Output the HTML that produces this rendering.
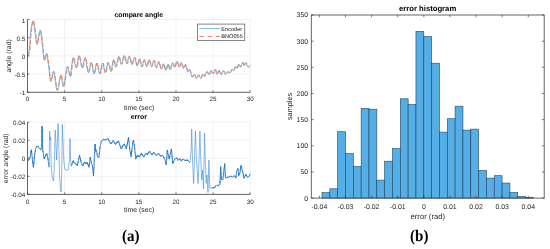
<!DOCTYPE html>
<html><head><meta charset="utf-8"><title>compare angle / error histogram</title>
<style>
html,body{margin:0;padding:0;background:#fff;}
body{width:550px;height:249px;overflow:hidden;position:relative;}
</style></head><body>
<svg width="550" height="249" viewBox="0 0 550 249" style="position:absolute;left:0;top:0" text-rendering="geometricPrecision">
<line x1="27.5" y1="19.5" x2="27.5" y2="92.3" stroke="#e8e8e8" stroke-width="0.6"/>
<line x1="64.62" y1="19.5" x2="64.62" y2="92.3" stroke="#e8e8e8" stroke-width="0.6"/>
<line x1="101.73" y1="19.5" x2="101.73" y2="92.3" stroke="#e8e8e8" stroke-width="0.6"/>
<line x1="138.85" y1="19.5" x2="138.85" y2="92.3" stroke="#e8e8e8" stroke-width="0.6"/>
<line x1="175.97" y1="19.5" x2="175.97" y2="92.3" stroke="#e8e8e8" stroke-width="0.6"/>
<line x1="213.08" y1="19.5" x2="213.08" y2="92.3" stroke="#e8e8e8" stroke-width="0.6"/>
<line x1="250.2" y1="19.5" x2="250.2" y2="92.3" stroke="#e8e8e8" stroke-width="0.6"/>
<line x1="27.5" y1="19.5" x2="250.2" y2="19.5" stroke="#e8e8e8" stroke-width="0.6"/>
<line x1="27.5" y1="37.7" x2="250.2" y2="37.7" stroke="#e8e8e8" stroke-width="0.6"/>
<line x1="27.5" y1="55.9" x2="250.2" y2="55.9" stroke="#e8e8e8" stroke-width="0.6"/>
<line x1="27.5" y1="74.1" x2="250.2" y2="74.1" stroke="#e8e8e8" stroke-width="0.6"/>
<line x1="27.5" y1="92.3" x2="250.2" y2="92.3" stroke="#e8e8e8" stroke-width="0.6"/>
<path d="M27.25 56.3C27.58 55.25 28.67 54.05 29.25 50C29.83 45.95 30.13 36.87 30.75 32C31.37 27.13 32.28 21.13 32.95 20.8C33.62 20.47 34.12 26.1 34.75 30C35.38 33.9 36.12 43.2 36.75 44.2C37.38 45.2 37.98 38.3 38.55 36C39.12 33.7 39.57 29.4 40.15 30.4C40.73 31.4 41.4 37.08 42.05 42C42.7 46.92 43.32 57.98 44.05 59.9C44.78 61.82 45.7 52.48 46.45 53.5C47.2 54.52 47.85 61.37 48.55 66C49.25 70.63 49.8 80.37 50.65 81.3C51.5 82.23 52.58 70.1 53.65 71.6C54.72 73.1 55.88 89.75 57.05 90.3C58.22 90.85 59.57 75.5 60.65 74.9C61.73 74.3 62.47 88.05 63.55 86.7C64.63 85.35 66.03 68.52 67.15 66.8C68.27 65.08 69.28 77.9 70.25 76.4C71.22 74.9 71.93 59.2 72.95 57.8C73.97 56.4 75.35 68.37 76.35 68C77.35 67.63 77.98 55.6 78.95 55.6C79.92 55.6 81.12 67.65 82.15 68C83.18 68.35 84.15 56.95 85.15 57.7C86.15 58.45 87.15 71.7 88.15 72.5C89.15 73.3 90.18 62.25 91.15 62.5C92.12 62.75 93.03 73.9 93.95 74C94.87 74.1 95.7 63.15 96.65 63.1C97.6 63.05 98.68 73.7 99.65 73.7C100.62 73.7 101.52 63.25 102.45 63.1C103.38 62.95 104.33 72.92 105.25 72.8C106.17 72.68 107.02 62.65 107.95 62.4C108.88 62.15 109.95 71.73 110.85 71.3C111.75 70.87 112.52 60.52 113.35 59.8C114.18 59.08 114.98 67.55 115.85 67C116.72 66.45 117.63 56.95 118.55 56.5C119.47 56.05 120.43 64.47 121.35 64.3C122.27 64.13 123.15 55.58 124.05 55.5C124.95 55.42 125.9 63.72 126.75 63.8C127.6 63.88 128.32 55.9 129.15 56C129.98 56.1 130.85 64.18 131.75 64.4C132.65 64.62 133.68 57.03 134.55 57.3C135.42 57.57 136.15 65.75 136.95 66C137.75 66.25 138.55 58.65 139.35 58.8C140.15 58.95 140.95 66.75 141.75 66.9C142.55 67.05 143.35 59.73 144.15 59.7C144.95 59.67 145.75 66.7 146.55 66.7C147.35 66.7 148.15 59.7 148.95 59.7C149.75 59.7 150.55 66.58 151.35 66.7C152.15 66.82 152.95 60.23 153.75 60.4C154.55 60.57 155.33 67.5 156.15 67.7C156.97 67.9 157.83 61.37 158.65 61.6C159.47 61.83 160.25 68.75 161.05 69.1C161.85 69.45 162.72 63.5 163.45 63.7C164.18 63.9 164.72 70.2 165.45 70.3C166.18 70.4 167.1 64.4 167.85 64.3C168.6 64.2 169.2 69.95 169.95 69.7C170.7 69.45 171.58 63.2 172.35 62.8C173.12 62.4 173.82 67.53 174.55 67.3C175.28 67.07 176 61.43 176.75 61.4C177.5 61.37 178.32 66.9 179.05 67.1C179.78 67.3 180.43 62.38 181.15 62.6C181.87 62.82 182.65 68.07 183.35 68.4C184.05 68.73 184.65 64.07 185.35 64.6C186.05 65.13 186.85 70.75 187.55 71.6C188.25 72.45 188.8 68.8 189.55 69.7C190.3 70.6 191.28 76.23 192.05 77C192.82 77.77 193.43 74.05 194.15 74.3C194.87 74.55 195.63 78.42 196.35 78.5C197.07 78.58 197.75 74.85 198.45 74.8C199.15 74.75 199.85 78.33 200.55 78.2C201.25 78.07 201.98 74.3 202.65 74C203.32 73.7 203.87 76.8 204.55 76.4C205.23 76 206.02 71.87 206.75 71.6C207.48 71.33 208.23 75.02 208.95 74.8C209.67 74.58 210.38 70.47 211.05 70.3C211.72 70.13 212.28 73.93 212.95 73.8C213.62 73.67 214.4 69.42 215.05 69.5C215.7 69.58 216.2 74.2 216.85 74.3C217.5 74.4 218.25 70.07 218.95 70.1C219.65 70.13 220.33 74.4 221.05 74.5C221.77 74.6 222.55 70.73 223.25 70.7C223.95 70.67 224.5 74.15 225.25 74.3C226 74.45 227.03 71.8 227.75 71.6C228.47 71.4 228.85 73.5 229.55 73.1C230.25 72.7 231.25 69.65 231.95 69.2C232.65 68.75 233.2 70.87 233.75 70.4C234.3 69.93 234.72 66.77 235.25 66.4C235.78 66.03 236.4 68.6 236.95 68.2C237.5 67.8 237.98 64.2 238.55 64C239.12 63.8 239.68 67.3 240.35 67C241.02 66.7 241.95 62.4 242.55 62.2C243.15 62 243.42 65.7 243.95 65.8C244.48 65.9 245.1 62.6 245.75 62.8C246.4 63 247.25 66.45 247.85 67C248.45 67.55 249 66.35 249.35 66.1C249.7 65.85 249.85 65.6 249.95 65.5" fill="none" stroke="#5fb3ec" stroke-width="0.95" stroke-linejoin="round"/>
<path d="M27.8 56.3C28.13 55.25 29.22 54.05 29.8 50C30.38 45.95 30.68 36.87 31.3 32C31.92 27.13 32.83 21.13 33.5 20.8C34.17 20.47 34.67 26.1 35.3 30C35.93 33.9 36.67 43.2 37.3 44.2C37.93 45.2 38.53 38.3 39.1 36C39.67 33.7 40.12 29.4 40.7 30.4C41.28 31.4 41.95 37.08 42.6 42C43.25 46.92 43.87 57.98 44.6 59.9C45.33 61.82 46.25 52.48 47 53.5C47.75 54.52 48.4 61.37 49.1 66C49.8 70.63 50.35 80.37 51.2 81.3C52.05 82.23 53.13 70.1 54.2 71.6C55.27 73.1 56.43 89.75 57.6 90.3C58.77 90.85 60.12 75.5 61.2 74.9C62.28 74.3 63.02 88.05 64.1 86.7C65.18 85.35 66.58 68.52 67.7 66.8C68.82 65.08 69.83 77.9 70.8 76.4C71.77 74.9 72.48 59.2 73.5 57.8C74.52 56.4 75.9 68.37 76.9 68C77.9 67.63 78.53 55.6 79.5 55.6C80.47 55.6 81.67 67.65 82.7 68C83.73 68.35 84.7 56.95 85.7 57.7C86.7 58.45 87.7 71.7 88.7 72.5C89.7 73.3 90.73 62.25 91.7 62.5C92.67 62.75 93.58 73.9 94.5 74C95.42 74.1 96.25 63.15 97.2 63.1C98.15 63.05 99.23 73.7 100.2 73.7C101.17 73.7 102.07 63.25 103 63.1C103.93 62.95 104.88 72.92 105.8 72.8C106.72 72.68 107.57 62.65 108.5 62.4C109.43 62.15 110.5 71.73 111.4 71.3C112.3 70.87 113.07 60.52 113.9 59.8C114.73 59.08 115.53 67.55 116.4 67C117.27 66.45 118.18 56.95 119.1 56.5C120.02 56.05 120.98 64.47 121.9 64.3C122.82 64.13 123.7 55.58 124.6 55.5C125.5 55.42 126.45 63.72 127.3 63.8C128.15 63.88 128.87 55.9 129.7 56C130.53 56.1 131.4 64.18 132.3 64.4C133.2 64.62 134.23 57.03 135.1 57.3C135.97 57.57 136.7 65.75 137.5 66C138.3 66.25 139.1 58.65 139.9 58.8C140.7 58.95 141.5 66.75 142.3 66.9C143.1 67.05 143.9 59.73 144.7 59.7C145.5 59.67 146.3 66.7 147.1 66.7C147.9 66.7 148.7 59.7 149.5 59.7C150.3 59.7 151.1 66.58 151.9 66.7C152.7 66.82 153.5 60.23 154.3 60.4C155.1 60.57 155.88 67.5 156.7 67.7C157.52 67.9 158.38 61.37 159.2 61.6C160.02 61.83 160.8 68.75 161.6 69.1C162.4 69.45 163.27 63.5 164 63.7C164.73 63.9 165.27 70.2 166 70.3C166.73 70.4 167.65 64.4 168.4 64.3C169.15 64.2 169.75 69.95 170.5 69.7C171.25 69.45 172.13 63.2 172.9 62.8C173.67 62.4 174.37 67.53 175.1 67.3C175.83 67.07 176.55 61.43 177.3 61.4C178.05 61.37 178.87 66.9 179.6 67.1C180.33 67.3 180.98 62.38 181.7 62.6C182.42 62.82 183.2 68.07 183.9 68.4C184.6 68.73 185.2 64.07 185.9 64.6C186.6 65.13 187.4 70.75 188.1 71.6C188.8 72.45 189.35 68.8 190.1 69.7C190.85 70.6 191.83 76.23 192.6 77C193.37 77.77 193.98 74.05 194.7 74.3C195.42 74.55 196.18 78.42 196.9 78.5C197.62 78.58 198.3 74.85 199 74.8C199.7 74.75 200.4 78.33 201.1 78.2C201.8 78.07 202.53 74.3 203.2 74C203.87 73.7 204.42 76.8 205.1 76.4C205.78 76 206.57 71.87 207.3 71.6C208.03 71.33 208.78 75.02 209.5 74.8C210.22 74.58 210.93 70.47 211.6 70.3C212.27 70.13 212.83 73.93 213.5 73.8C214.17 73.67 214.95 69.42 215.6 69.5C216.25 69.58 216.75 74.2 217.4 74.3C218.05 74.4 218.8 70.07 219.5 70.1C220.2 70.13 220.88 74.4 221.6 74.5C222.32 74.6 223.1 70.73 223.8 70.7C224.5 70.67 225.05 74.15 225.8 74.3C226.55 74.45 227.58 71.8 228.3 71.6C229.02 71.4 229.4 73.5 230.1 73.1C230.8 72.7 231.8 69.65 232.5 69.2C233.2 68.75 233.75 70.87 234.3 70.4C234.85 69.93 235.27 66.77 235.8 66.4C236.33 66.03 236.95 68.6 237.5 68.2C238.05 67.8 238.53 64.2 239.1 64C239.67 63.8 240.23 67.3 240.9 67C241.57 66.7 242.5 62.4 243.1 62.2C243.7 62 243.97 65.7 244.5 65.8C245.03 65.9 245.65 62.6 246.3 62.8C246.95 63 247.8 66.45 248.4 67C249 67.55 249.55 66.35 249.9 66.1C250.25 65.85 250.4 65.6 250.5 65.5" fill="none" stroke="#ec7c58" stroke-width="0.9" stroke-dasharray="4.4 1.8" stroke-linejoin="round"/>
<path d="M27.5 19.5V92.3H250.2" fill="none" stroke="#4a4a4a" stroke-width="0.85"/>
<path d="M27.5 92.3v-2M64.62 92.3v-2M101.73 92.3v-2M138.85 92.3v-2M175.97 92.3v-2M213.08 92.3v-2M250.2 92.3v-2M27.5 19.5h2M27.5 37.7h2M27.5 55.9h2M27.5 74.1h2M27.5 92.3h2" fill="none" stroke="#262626" stroke-width="0.6"/>
<g font-family="'Liberation Sans', Arial, Helvetica, sans-serif" font-size="6.3" fill="#262626"><text x="25.3" y="22.5" text-anchor="end">1</text><text x="25.3" y="40.7" text-anchor="end">0.5</text><text x="25.3" y="58.9" text-anchor="end">0</text><text x="25.3" y="77.1" text-anchor="end">-0.5</text><text x="25.3" y="95.3" text-anchor="end">-1</text><text x="27.5" y="101.4" text-anchor="middle">0</text><text x="64.62" y="101.4" text-anchor="middle">5</text><text x="101.73" y="101.4" text-anchor="middle">10</text><text x="138.85" y="101.4" text-anchor="middle">15</text><text x="175.97" y="101.4" text-anchor="middle">20</text><text x="213.08" y="101.4" text-anchor="middle">25</text><text x="250.2" y="101.4" text-anchor="middle">30</text></g>
<text x="139.2" y="109.8" font-family="'Liberation Sans', Arial, Helvetica, sans-serif" font-size="6.9" fill="#262626" text-anchor="middle">time (sec)</text>
<text x="138.8" y="17.3" font-family="'Liberation Sans', Arial, Helvetica, sans-serif" font-size="6.9" font-weight="bold" fill="#000" text-anchor="middle">compare angle</text>
<text transform="translate(11.2 55.9) rotate(-90)" font-family="'Liberation Sans', Arial, Helvetica, sans-serif" font-size="6.9" fill="#262626" text-anchor="middle">angle (rad)</text>
<rect x="197.4" y="24.1" width="47.3" height="16.4" fill="#fff" stroke="#6a6a6a" stroke-width="0.8"/>
<line x1="199.3" y1="28.5" x2="220" y2="28.5" stroke="#6ab8ee" stroke-width="0.9"/>
<line x1="199.3" y1="36.5" x2="220" y2="36.5" stroke="#ec7a55" stroke-width="0.9" stroke-dasharray="4.8 3.4"/>
<g font-family="'Liberation Sans', Arial, Helvetica, sans-serif" font-size="5.6" fill="#111"><text x="221.3" y="30.6">Encoder</text><text x="221.3" y="38.4">BNO055</text></g>
<line x1="27.5" y1="122.1" x2="27.5" y2="194.4" stroke="#e8e8e8" stroke-width="0.6"/>
<line x1="64.62" y1="122.1" x2="64.62" y2="194.4" stroke="#e8e8e8" stroke-width="0.6"/>
<line x1="101.73" y1="122.1" x2="101.73" y2="194.4" stroke="#e8e8e8" stroke-width="0.6"/>
<line x1="138.85" y1="122.1" x2="138.85" y2="194.4" stroke="#e8e8e8" stroke-width="0.6"/>
<line x1="175.97" y1="122.1" x2="175.97" y2="194.4" stroke="#e8e8e8" stroke-width="0.6"/>
<line x1="213.08" y1="122.1" x2="213.08" y2="194.4" stroke="#e8e8e8" stroke-width="0.6"/>
<line x1="250.2" y1="122.1" x2="250.2" y2="194.4" stroke="#e8e8e8" stroke-width="0.6"/>
<line x1="27.5" y1="122.1" x2="250.2" y2="122.1" stroke="#e8e8e8" stroke-width="0.6"/>
<line x1="27.5" y1="140.18" x2="250.2" y2="140.18" stroke="#e8e8e8" stroke-width="0.6"/>
<line x1="27.5" y1="158.25" x2="250.2" y2="158.25" stroke="#e8e8e8" stroke-width="0.6"/>
<line x1="27.5" y1="176.32" x2="250.2" y2="176.32" stroke="#e8e8e8" stroke-width="0.6"/>
<line x1="27.5" y1="194.4" x2="250.2" y2="194.4" stroke="#e8e8e8" stroke-width="0.6"/>
<polyline points="27.5,158.9 27.75,159.07 28,159.25 28.25,160.3 28.5,160.5 28.75,159.53 29,159.71 29.25,159.08 29.5,158.26 29.75,158.43 30,158 30.07,156.94 30.14,157 30.22,156.07 30.29,155.65 30.36,155.62 30.43,155.69 30.51,154.32 30.58,154 30.65,154.07 30.72,154.03 30.79,153.09 30.87,152.4 30.94,152.7 31.01,151.03 31.08,151.63 31.16,150.44 31.23,149.79 31.3,149.8 31.35,149.75 31.41,150.45 31.46,151.56 31.52,151.18 31.57,152.15 31.62,152.67 31.68,152.78 31.73,153.45 31.78,153.27 31.84,153.71 31.89,154.35 31.95,155.42 32,155.54 32.05,155.84 32.11,156.64 32.16,156.92 32.22,157.17 32.27,158.26 32.32,158.58 32.38,158.44 32.43,159.32 32.48,159.7 32.54,160.61 32.59,160.87 32.65,160.74 32.7,162.09 32.75,161.42 32.81,162.26 32.86,163.15 32.92,162.81 32.97,163.7 33.02,163.56 33.08,164.83 33.13,165.4 33.18,165.6 33.24,166.44 33.29,166.16 33.35,167.11 33.4,167.3 33.45,166.97 33.49,166.5 33.54,165.89 33.59,165.94 33.64,165.63 33.68,164.57 33.73,164.36 33.78,163.13 33.82,163.51 33.87,162.99 33.92,162.99 33.96,162.32 34.01,161.17 34.06,160.85 34.11,160.77 34.15,159.48 34.2,159.6 34.25,158.77 34.29,158.25 34.34,157.73 34.39,158.2 34.44,156.92 34.48,156.62 34.53,156.36 34.58,156.53 34.62,155.05 34.67,155.08 34.72,154.76 34.76,154.75 34.81,154.22 34.86,153.82 34.91,152.61 34.95,152.34 35,152 35.13,151.34 35.25,151.55 35.38,151.18 35.51,149.66 35.64,149.22 35.76,148.82 35.89,148.34 36.02,148.2 36.15,147.86 36.27,146.96 36.4,146.8 36.88,146.01 37.35,146.39 37.82,146.18 38.3,146.2 38.54,146.75 38.78,147.71 39.02,147.83 39.26,148.06 39.5,148.5 39.9,149.09 40.3,149.6 40.7,149.8 40.81,148.75 40.93,149.37 41.04,148.74 41.15,148.39 41.26,147.81 41.38,146.81 41.49,146.34 41.6,146 41.61,145.03 41.62,145.27 41.63,144.07 41.65,143.62 41.66,143.35 41.67,142.83 41.68,142.61 41.69,141.78 41.7,141.26 41.71,141 41.73,140.48 41.74,140.37 41.75,139.47 41.76,140.12 41.77,139.33 41.78,138.27 41.79,137.95 41.8,137.62 41.82,137.19 41.83,136.42 41.84,136.91 41.85,136.64 41.86,135.5 41.87,135.07 41.88,134.1 41.9,133.66 41.91,133.52 41.92,132.97 41.93,133.25 41.94,131.92 41.95,131.29 41.96,132.04 41.98,131.04 41.99,130.09 42,130.15 42.01,129.02 42.02,129.22 42.03,129.35 42.04,128.75 42.05,128.07 42.07,127.05 42.08,126.74 42.09,126.02 42.1,126 42.11,126.81 42.12,126.95 42.13,127.72 42.15,127.59 42.16,127.9 42.17,129.12 42.18,129.8 42.19,130.08 42.2,130.47 42.21,130.94 42.22,131.29 42.24,131.08 42.25,131.91 42.26,132.15 42.27,132.18 42.28,132.63 42.29,133.41 42.3,133.84 42.32,134.85 42.33,135.65 42.34,135.44 42.35,136.53 42.36,137.05 42.37,137.46 42.38,137.14 42.39,137.41 42.41,137.87 42.42,138.28 42.43,138.75 42.44,139.75 42.45,140.56 42.46,140.93 42.47,140.92 42.48,141.6 42.5,142.24 42.51,141.76 42.52,142.96 42.53,143.74 42.54,144.03 42.55,144.44 42.56,144.54 42.58,144.6 42.59,145.85 42.6,145.71 42.61,146.77 42.62,147.44 42.63,147.15 42.64,147.61 42.65,148.77 42.67,148.93 42.68,148.67 42.69,149.06 42.7,150 42.78,149.99 42.86,151.42 42.94,151.73 43.02,151.32 43.1,152.65 43.18,153.29 43.26,153.32 43.34,153.37 43.42,154.07 43.5,153.97 43.58,154.26 43.66,155.95 43.74,155.98 43.82,156.26 43.9,157.24 43.98,157.03 44.06,158.05 44.14,158.43 44.22,158.08 44.3,158.9 44.5,158.09 44.7,157.66 44.9,157.11 45.1,157.08 45.3,156.17 45.5,156 45.7,155.46 45.9,154.65 46.1,155.23 46.3,154.08 46.5,153.78 46.7,153.4 46.81,153.98 46.92,154.86 47.03,154.7 47.13,155.81 47.24,155.74 47.35,156.24 47.46,156.7 47.57,156.51 47.67,157.52 47.78,157.65 47.89,157.89 48,159 48.06,159.85 48.12,159.5 48.18,160.35 48.24,161.14 48.31,161.38 48.37,161.54 48.43,162.25 48.49,162.76 48.55,163.52 48.61,163.1 48.67,164.15 48.73,164.21 48.79,164.7 48.86,165.81 48.92,165.93 48.98,166.46 49.04,167.18 49.1,167.3" fill="none" stroke="#106cc0" stroke-width="0.95" stroke-linejoin="round"/>
<polyline points="49.1,167.3 49.6,131 50.2,140 50.6,137 51.2,165 52.2,178 53.5,181 54.2,170 55.2,130 55.8,140 56.6,160 57.6,135 58.1,123.5 58.7,140 59.5,175 60.5,190 61.2,192 61.8,165 62.3,124.5 63,140 63.8,160 64.6,168 65.5,170 67,170 68.4,169.7 69.4,160 70,138.5 70.6,160 71.4,166.1" fill="none" stroke="#3d8bd6" stroke-width="0.6" stroke-linejoin="round"/>
<polyline points="71.4,166.1 71.55,165.42 71.7,164.75 71.85,164.95 72,163.74 72.15,163.9 72.3,163.23 72.45,162.38 72.6,162.51 72.75,161.45 72.9,161.51 73.05,160.59 73.2,160.7 73.44,160.63 73.68,161.52 73.92,162.5 74.16,162.05 74.4,163 74.8,162.87 75.2,163.63 75.6,163.7 75.96,164.64 76.32,164.52 76.68,164.65 77.04,165.76 77.4,165.5 77.49,164.46 77.58,165.07 77.67,163.88 77.77,163.25 77.86,162.76 77.95,162.56 78.04,162.78 78.13,161.5 78.22,161.58 78.31,161.2 78.4,160.41 78.5,160.19 78.59,159.11 78.68,158.66 78.77,158.4 78.86,158.57 78.95,157.79 79.04,157.2 79.13,157.1 79.23,156.48 79.32,155.84 79.41,156.03 79.5,155.2 79.61,155.91 79.71,155.77 79.82,156.66 79.93,157.05 80.03,157.95 80.14,158.22 80.25,158.1 80.35,159.45 80.46,158.78 80.57,159.63 80.67,160.52 80.78,160.19 80.89,161.08 80.99,160.95 81.1,162 81.29,162.67 81.48,163.26 81.67,163.46 81.86,164.31 82.04,164.04 82.23,164.99 82.42,165.31 82.61,165.75 82.8,166.1 82.98,165.62 83.16,165.7 83.34,165.42 83.52,164.39 83.7,164.21 83.88,163.01 84.06,163.42 84.24,162.93 84.42,162.96 84.6,161.9 84.92,162.74 85.24,162.46 85.56,163.01 85.88,163.8 86.2,164 86.45,163 86.7,163.2 86.95,162.44 87.2,162.5 87.36,162.44 87.53,162.8 87.69,164.16 87.85,163.76 88.02,164.35 88.18,164.98 88.35,166.04 88.51,165.45 88.67,166.36 88.84,166.93 89,167.3 89.05,167.35 89.1,166.82 89.16,166.43 89.21,165.22 89.26,164.95 89.31,164.43 89.37,164.66 89.42,164.31 89.47,162.82 89.52,162.4 89.57,162.03 89.63,161.58 89.68,161.46 89.73,161.15 89.78,160.27 89.83,159.49 89.89,159.58 89.94,159.07 89.99,158.88 90.04,158.93 90.1,158.14 90.15,157.47 90.2,157 90.29,157.6 90.37,158.13 90.46,157.77 90.54,159.32 90.63,159.61 90.71,160.19 90.8,160.54 90.89,160.46 90.97,160.92 91.06,160.98 91.14,162.12 91.23,161.83 91.31,162.29 91.4,163.3 91.55,163.37 91.7,163.76 91.85,164.44 92,164.52 92.15,164.9 92.3,165.55 92.45,165.93 92.6,166.9 92.64,167.17 92.69,167.18 92.73,168.74 92.78,168.85 92.82,168.69 92.87,169.28 92.91,169.85 92.96,170.32 93,170.46 93.05,171.85 93.09,172.49 93.14,172.26 93.19,172.73 93.23,172.66 93.28,173.13 93.32,173.9 93.36,174.24 93.41,175.43 93.45,175.01 93.5,175.9 93.52,174.82 93.54,175.57 93.57,174.57 93.59,173.62 93.61,173.68 93.63,172.55 93.65,172.74 93.68,172.87 93.7,172.27 93.72,171.59 93.74,170.57 93.76,170.25 93.79,169.54 93.81,169.87 93.83,169.1 93.85,168.97 93.87,167.92 93.9,167.33 93.92,167.64 93.94,167.41 93.96,166.78 93.98,166.26 94,165.82 94.03,165.27 94.05,164.14 94.07,164.06 94.09,163.4 94.11,162.52 94.14,162.06 94.16,161.93 94.18,161.45 94.2,161.56 94.22,161.44 94.25,160.32 94.27,160.5 94.29,160.11 94.31,159.62 94.33,158.39 94.36,157.75 94.38,157.3 94.4,157.2 94.43,156.35 94.45,155.89 94.48,155.98 94.5,155.88 94.53,155.34 94.55,154.41 94.58,154.17 94.6,153.9 94.62,152.51 94.65,152.8 94.67,152.66 94.7,152.04 94.72,151.54 94.75,150.72 94.78,149.87 94.8,150.2 94.83,149.15 94.85,149.3 94.88,149.06 94.9,147.85 94.92,147.4 94.95,147.65 94.97,146.9 95,145.71 95.02,145.2 95.05,144.77 95.07,145.29 95.1,144.3 95.13,145.16 95.17,144.76 95.2,146.1 95.23,146.76 95.27,146.8 95.3,146.87 95.33,147.58 95.37,147.5 95.4,147.81 95.43,149.51 95.47,149.55 95.5,149.85 95.53,150.84 95.57,150.65 95.6,151.2 95.83,151.22 96.07,150.69 96.3,149.8 96.38,149.9 96.47,150.43 96.55,150.96 96.64,151.37 96.72,152.3 96.81,152.35 96.89,153.03 96.98,153.14 97.06,154.63 97.15,154.38 97.23,154.99 97.32,155.63 97.4,156 97.65,156.98 97.9,156.9 98.45,157.1 99,157.5 99.04,157.58 99.09,156.58 99.13,156.16 99.18,155.69 99.22,154.57 99.26,154.66 99.31,153.87 99.35,153.18 99.4,153.75 99.44,152.47 99.48,152.41 99.53,152.27 99.57,151.59 99.62,150.83 99.66,150.62 99.7,150.21 99.75,150.05 99.79,148.71 99.84,148.84 99.88,147.97 99.92,147.55 99.97,147.73 100.01,146.93 100.06,146.54 100.1,146 100.23,145.87 100.35,145.61 100.48,144.54 100.61,144.29 100.74,143.69 100.86,143.23 100.99,143.01 101.12,142.23 101.25,141.87 101.37,141.34 101.5,140.9 101.87,141.16 102.23,140.53 102.6,140.44 102.97,140.21 103.33,139 103.7,139 104.14,139.32 104.58,140.06 105.02,140.16 105.46,139.49 105.9,140.2 106.34,139.41 106.78,139.52 107.22,138.74 107.66,138.66 108.1,138.7 108.3,138.56 108.5,139.75 108.7,140.31 108.9,140.87 109.1,140.32 109.3,141.47 109.5,141.6 109.8,142.25 110.1,142.02 110.4,143.42 110.7,143.97 111,143.8 111.28,143.02 111.55,143.56 111.83,142.43 112.1,142.13 112.38,142.37 112.65,141.76 112.92,140.47 113.2,140.5 113.42,140.81 113.64,141.32 113.86,141.49 114.08,141.7 114.3,142.26 114.52,143.19 114.74,142.68 114.96,143.77 115.18,144.02 115.4,144.5 115.69,143.51 115.98,143.56 116.27,143.58 116.56,143.08 116.85,142.13 117.14,142.97 117.43,142.35 117.72,142.23 118.01,140.75 118.3,140.9 118.46,141.04 118.62,141.19 118.78,142.6 118.94,142.38 119.11,142.64 119.27,143.47 119.43,144.55 119.59,144.87 119.75,144.59 119.91,144.89 120.07,146.33 120.23,146.33 120.39,146.94 120.56,146.59 120.72,146.99 120.88,148.26 121.04,148.36 121.2,148.9 121.42,147.95 121.65,148.69 121.87,147.9 122.09,147.72 122.32,146.4 122.54,147.01 122.76,145.59 122.98,146.23 123.21,145.31 123.43,144.77 123.65,144.65 123.88,144.75 124.1,143.8 124.28,143.92 124.47,144.17 124.65,145.11 124.83,145.16 125.02,145.42 125.2,145.91 125.38,146.19 125.57,146.81 125.75,147.38 125.93,147.8 126.12,148.81 126.3,148.9 126.38,148.18 126.47,148.01 126.55,147.14 126.64,146.92 126.72,146.04 126.81,145.9 126.89,145.15 126.98,145.63 127.06,144.95 127.15,144.03 127.23,143.96 127.32,144.11 127.4,142.59 127.48,143.07 127.57,142.12 127.65,141.76 127.74,141.75 127.82,140.73 127.91,140.43 127.99,140.22 128.08,140.16 128.16,138.88 128.25,139.07 128.33,138.46 128.42,137.92 128.5,137.3 128.55,137.63 128.6,138.01 128.64,138.08 128.69,138.63 128.74,139 128.79,140.32 128.84,140.14 128.89,140.48 128.93,140.83 128.98,142.26 129.03,142.75 129.08,142.94 129.13,142.89 129.18,143.29 129.22,143.81 129.27,144.47 129.32,144.53 129.37,145.36 129.42,145.57 129.47,146.93 129.51,147.4 129.56,147.3 129.61,147.36 129.66,148.75 129.71,148.35 129.76,148.86 129.8,148.85 129.85,149.79 129.9,150.4 129.99,150.83 130.07,151.33 130.16,151.4 130.24,152.26 130.33,152.08 130.41,152.88 130.5,153.12 130.59,153.98 130.67,153.98 130.76,154.42 130.84,155.25 130.93,155.62 131.01,156.55 131.1,156.9 131.15,156.48 131.2,156.31 131.26,155.73 131.31,155.34 131.36,155.1 131.41,154 131.46,153.46 131.51,153.86 131.57,152.31 131.62,152.6 131.67,152.03 131.72,150.8 131.77,151.37 131.83,150.98 131.88,150.18 131.93,149.86 131.98,149.5 132.03,148.16 132.09,148.2 132.14,147.72 132.19,147.69 132.24,147.19 132.29,146.76 132.34,145.99 132.4,145.93 132.45,145.2 132.5,144.5 132.61,144.27 132.72,143.19 132.83,142.46 132.94,142.11 133.06,141.93 133.17,141.12 133.28,141.59 133.39,140.75 133.5,140.2 133.57,140.82 133.64,141.28 133.71,141.8 133.78,142.01 133.84,141.84 133.91,143.32 133.98,143.72 134.05,143.85 134.12,144.35 134.19,144.97 134.26,144.65 134.32,145.98 134.39,145.81 134.46,146.03 134.53,146.74 134.6,147.5 134.64,148.26 134.69,148.04 134.73,149.2 134.78,149.97 134.82,149.81 134.86,150.13 134.91,150.72 134.95,151.45 135,152.02 135.04,152.29 135.08,152.79 135.13,152.52 135.17,153.07 135.22,153.68 135.26,154.78 135.3,154.67 135.35,155.48 135.39,155.22 135.44,155.74 135.48,156.48 135.52,157.47 135.57,157.96 135.61,158.4 135.66,158.36 135.7,159.1 135.89,158.67 136.07,158.15 136.26,157.71 136.45,156.8 136.64,157.36 136.82,156.01 137.01,156.57 137.2,155.5 137.64,156.35 138.08,155.43 138.52,156.29 138.96,157.04 139.4,156.9 139.63,157.11 139.87,156.03 140.1,155.4 140.33,154.92 140.57,155.48 140.8,154.12 141.03,154.21 141.27,153.23 141.5,153.3 141.74,153.73 141.99,154.69 142.23,154.02 142.48,155.32 142.72,155.31 142.97,156.2 143.21,156.36 143.46,156.15 143.7,156.9 143.94,157.02 144.19,156.08 144.43,155.08 144.68,154.65 144.92,154.89 145.17,154.44 145.41,153.84 145.66,153.23 145.9,153.3 146.28,153.45 146.65,153.76 147.03,154.79 147.4,154.7 147.63,153.65 147.87,154.23 148.1,153.94 148.33,152.61 148.57,153.25 148.8,152.58 149.03,152.42 149.27,151.23 149.5,151.1 149.74,151.33 149.99,151.76 150.23,152.95 150.48,152.82 150.72,152.92 150.97,153.41 151.21,153.61 151.46,153.71 151.7,154.7 152.07,153.82 152.43,154.4 152.8,153.32 153.17,153.8 153.53,152.54 153.9,152.5 154.18,152.57 154.45,153.26 154.72,153.22 155,153.84 155.28,154.97 155.55,155.25 155.82,155.53 156.1,155.5 156.47,155.3 156.83,155.3 157.2,154.97 157.57,154.1 157.93,153.95 158.3,153.3 158.58,153.08 158.85,154.33 159.12,154.32 159.4,155.08 159.68,155.3 159.95,155.2 160.22,155.25 160.5,156.2 161.03,156.58 161.55,155.37 162.07,155.64 162.6,155.5 162.84,155.7 163.09,156.04 163.33,157.01 163.58,157.72 163.82,157.19 164.07,158.1 164.31,158.04 164.56,158.77 164.8,159.1 164.92,159.41 165.03,159.56 165.15,160 165.26,160.5 165.38,161.86 165.49,161.77 165.61,161.86 165.72,163.2 165.84,163.76 165.95,163.5 166.07,163.54 166.18,164.05 166.3,164.9 166.33,163.91 166.36,163.79 166.39,163.01 166.43,162.75 166.46,162.32 166.49,162.27 166.52,162.23 166.55,161.6 166.58,160.71 166.61,160.26 166.64,159.95 166.68,159.3 166.71,158.8 166.74,157.99 166.77,157.81 166.8,158.26 166.83,156.71 166.86,156.75 166.89,156.46 166.93,156.31 166.96,155.02 166.99,154.63 167.02,154.15 167.05,153.89 167.08,153.5 167.11,153.71 167.14,153.12 167.18,152.7 167.21,151.14 167.24,150.7 167.27,151.13 167.3,150.4 167.4,151.37 167.5,151.28 167.6,151.89 167.7,151.58 167.8,152.55 167.9,153.7 168,154.03 168.1,154.53 168.2,155.13 168.3,154.65 168.4,154.93 168.5,155.45 168.6,156.38 168.7,157.05 168.8,157.84 168.9,158.01 169,158.38 169.1,158.99 169.2,159.1 169.3,158.6 169.39,158.28 169.49,157.17 169.58,157.69 169.68,156.53 169.77,156.99 169.87,156.18 169.97,155.3 170.06,154.63 170.16,154.34 170.25,154.4 170.35,154.04 170.44,152.83 170.54,152.33 170.63,152.48 170.73,152.11 170.83,151.42 170.92,150.76 171.02,150.81 171.11,149.59 171.21,149.53 171.3,149.29 171.4,148.9 171.44,149.95 171.49,150 171.53,150.77 171.58,150.69 171.62,150.84 171.66,151.31 171.71,152.69 171.75,152.82 171.79,152.76 171.84,152.84 171.88,153.92 171.93,154.6 171.97,154.73 172.01,154.97 172.06,155.96 172.1,156.75 172.14,156.3 172.19,156.51 172.23,157.36 172.28,157.92 172.32,158.72 172.36,158.55 172.41,159.78 172.45,160.16 172.49,160.31 172.54,160.38 172.58,161.83 172.62,161.43 172.67,162.55 172.71,162.24 172.76,162.68 172.8,163.5 172.99,163.4 173.18,162.35 173.37,162.77 173.56,161.73 173.75,160.89 173.94,160.5 174.13,160.31 174.32,160.19 174.51,160.12 174.7,159.1 175.17,158.34 175.65,158.36 176.12,157.83 176.6,157.9 176.84,159 177.08,158.39 177.32,158.76 177.56,159.25 177.8,160.3 178.16,159.8 178.52,160.1 178.88,159.72 179.24,159.16 179.6,158.5 179.9,159.55 180.2,159.86 180.5,159.48 180.8,159.69 181.1,161.07 181.4,160.9 181.76,160.86 182.12,159.57 182.48,160.03 182.84,159.3 183.2,159.1 183.56,159.3 183.92,159.6 184.28,159.75 184.64,159.89 185,160.9 185.45,160.31 185.9,160.11 186.35,160.59 186.8,159.7 187.16,159.57 187.52,161.02 187.88,160.4 188.24,160.95 188.6,161.5 189.07,162.18 189.53,162.45 190,162.3" fill="none" stroke="#106cc0" stroke-width="0.95" stroke-linejoin="round"/>
<polyline points="190,162.3 191.2,150 191.7,129 192.5,160 193.6,183.5 194.5,160 195.4,131.1 196.5,160 198.1,183.5 199,160 199.9,131.4 200.8,160 201.7,179.8 202.5,170 203.5,188.9 204.5,133 205.3,160 206.2,183.5 207,175 208,192.5 208.9,160 209.8,188 211.6,188" fill="none" stroke="#3d8bd6" stroke-width="0.6" stroke-linejoin="round"/>
<polyline points="211.6,188 212.07,187.77 212.53,187.55 213,188.2 213.47,187.44 213.93,188.05 214.4,188 214.72,187.41 215.03,186.59 215.35,186.76 215.67,185.73 215.98,185.83 216.3,185.5 216.75,185.04 217.2,185.17 217.65,185.7 218.1,185.9 218.46,185.96 218.82,184.69 219.18,184.46 219.54,184.63 219.9,184.1 219.92,184.22 219.94,183.28 219.96,182.58 219.98,182.88 220.01,181.21 220.03,181.8 220.05,180.6 220.07,179.95 220.09,179.46 220.11,179.25 220.13,179.45 220.15,178.16 220.17,178.22 220.19,177.83 220.22,177.03 220.24,176.79 220.26,175.7 220.28,175.24 220.3,174.97 220.32,175.12 220.34,174.33 220.36,173.73 220.38,173.62 220.41,172.99 220.43,172.33 220.45,172.51 220.47,171.92 220.49,170.87 220.51,170.84 220.53,170.32 220.55,170.31 220.57,169.66 220.59,168.63 220.62,169.07 220.64,167.49 220.66,167.41 220.68,167.39 220.7,166.6 220.72,166.61 220.75,167.5 220.77,167.38 220.8,168.65 220.82,169.24 220.84,169.45 220.87,170.3 220.89,170.03 220.92,170.98 220.94,171.31 220.97,171.75 220.99,172.05 221.01,173 221.04,173.6 221.06,173.45 221.09,174.15 221.11,173.83 221.13,175.12 221.16,175.51 221.18,176.41 221.21,176.65 221.23,176.41 221.26,177 221.28,177.83 221.3,177.44 221.33,178.47 221.35,178.55 221.38,178.94 221.4,179.9 221.9,179.13 222.4,179.85 222.9,179.3 222.95,178.37 223,178.07 223.05,177.81 223.11,177.99 223.16,176.51 223.21,176.54 223.26,176.22 223.31,176.21 223.36,175.68 223.41,175.29 223.47,174.08 223.52,173.81 223.57,173.28 223.62,173.52 223.67,173.17 223.72,171.67 223.77,171.25 223.83,170.88 223.88,170.43 223.93,170.31 223.98,170 224.03,169.12 224.08,168.34 224.13,168.43 224.19,167.92 224.24,167.72 224.29,167.78 224.34,166.99 224.39,166.31 224.44,166 224.49,165.62 224.55,164.37 224.6,165.02 224.65,164.41 224.7,163.6 224.72,164.54 224.75,164.89 224.77,164.82 224.8,165.28 224.82,165.35 224.85,166.49 224.88,166.2 224.9,166.66 224.92,167.3 224.95,167.69 224.97,168.38 225,168.46 225.03,168.84 225.05,169.49 225.07,169.88 225.1,170.67 225.12,170.69 225.15,172.24 225.17,172.36 225.2,172.21 225.22,172.79 225.25,173.37 225.28,173.85 225.3,173.98 225.32,175.38 225.35,176.02 225.38,175.79 225.4,176.27 225.43,176.2 225.45,176.68 225.47,177.44 225.5,178.1 226.03,177.59 226.57,178.13 227.1,177.5 227.55,176.91 228,176.58 228.45,177.64 228.9,176.9 229.35,176.79 229.8,176.14 230.25,176.51 230.7,176.3 231.15,175.84 231.6,176.64 232.05,177.37 232.5,176.9 232.95,177.07 233.4,176.56 233.85,175.69 234.3,175.7 234.57,175.93 234.83,176.07 235.1,177.25 235.37,177.34 235.63,178.06 235.9,178.1 235.95,177.42 236,176.83 236.05,177.14 236.1,176.91 236.15,176.28 236.2,175.76 236.25,175.32 236.3,174.76 236.35,173.64 236.4,173.56 236.45,172.89 236.5,172.01 236.55,171.56 236.6,171.43 236.65,170.94 236.7,170.8 236.92,170.65 237.13,170.59 237.35,169.53 237.57,169.77 237.78,169.43 238,168.4 238.05,169.45 238.1,169.14 238.15,169.41 238.2,169.87 238.25,170.29 238.3,170.75 238.35,171.76 238.4,172.57 238.45,172.95 238.5,172.94 238.55,173.62 238.6,174.26 238.65,173.79 238.7,175 238.75,175.78 238.8,175.7 239,175.59 239.2,175.07 239.4,174.23 239.6,173.36 239.8,173.3 239.87,173.21 239.94,172.15 240.01,172.3 240.08,172.05 240.15,170.84 240.22,170.38 240.29,170.63 240.36,169.87 240.44,168.69 240.51,168.17 240.58,167.73 240.65,168.25 240.72,167.66 240.79,166.33 240.86,166.75 240.93,166.49 241,165.4 241.13,166.07 241.27,166.14 241.4,166.86 241.53,166.79 241.67,167.1 241.8,168.81 241.93,168.86 242.07,169.17 242.2,169.6 242.29,170.61 242.39,170.41 242.48,171.43 242.58,171.81 242.67,171.46 242.77,171.96 242.86,172.46 242.96,172.84 243.05,173.74 243.15,173.76 243.24,174.42 243.34,174.49 243.43,175.95 243.53,175.67 243.62,176.26 243.72,176.87 243.81,177.73 243.91,177.55 244,178.1 244.22,178.19 244.45,177.2 244.68,176.79 244.9,176.33 245.12,175.22 245.35,175.32 245.58,174.54 245.8,174.5 246.06,174.28 246.31,175.75 246.57,175.36 246.83,176.18 247.09,176.94 247.34,177.14 247.6,177.5 247.96,176.91 248.32,176.8 248.68,176.49 249.04,176.43 249.4,175.7 249.6,174.76 249.8,174.93 250,174.1 250.2,174" fill="none" stroke="#106cc0" stroke-width="0.95" stroke-linejoin="round"/>
<path d="M27.5 122.1V194.4H250.2" fill="none" stroke="#4a4a4a" stroke-width="0.85"/>
<path d="M27.5 194.4v-2M64.62 194.4v-2M101.73 194.4v-2M138.85 194.4v-2M175.97 194.4v-2M213.08 194.4v-2M250.2 194.4v-2M27.5 122.1h2M27.5 140.18h2M27.5 158.25h2M27.5 176.32h2M27.5 194.4h2" fill="none" stroke="#262626" stroke-width="0.6"/>
<g font-family="'Liberation Sans', Arial, Helvetica, sans-serif" font-size="6.3" fill="#262626"><text x="25.3" y="125.1" text-anchor="end">0.04</text><text x="25.3" y="143.18" text-anchor="end">0.02</text><text x="25.3" y="161.25" text-anchor="end">0</text><text x="25.3" y="179.32" text-anchor="end">-0.02</text><text x="25.3" y="197.4" text-anchor="end">-0.04</text><text x="27.5" y="203.6" text-anchor="middle">0</text><text x="64.62" y="203.6" text-anchor="middle">5</text><text x="101.73" y="203.6" text-anchor="middle">10</text><text x="138.85" y="203.6" text-anchor="middle">15</text><text x="175.97" y="203.6" text-anchor="middle">20</text><text x="213.08" y="203.6" text-anchor="middle">25</text><text x="250.2" y="203.6" text-anchor="middle">30</text></g>
<text x="139.2" y="212.4" font-family="'Liberation Sans', Arial, Helvetica, sans-serif" font-size="6.9" fill="#262626" text-anchor="middle">time (sec)</text>
<text x="138.8" y="119.2" font-family="'Liberation Sans', Arial, Helvetica, sans-serif" font-size="6.9" font-weight="bold" fill="#000" text-anchor="middle">error</text>
<text transform="translate(8.2 158.25) rotate(-90)" font-family="'Liberation Sans', Arial, Helvetica, sans-serif" font-size="6.9" fill="#262626" text-anchor="middle">error angle (rad)</text>
<g fill="#55aee6" stroke="#23445e" stroke-width="0.6"><rect x="322" y="192.6" width="7.83" height="5.5"/><rect x="329.83" y="188.8" width="7.83" height="9.3"/><rect x="337.66" y="131.7" width="7.83" height="66.4"/><rect x="345.49" y="153.6" width="7.83" height="44.5"/><rect x="353.32" y="166.5" width="7.83" height="31.6"/><rect x="361.15" y="108.4" width="7.83" height="89.7"/><rect x="368.98" y="109.2" width="7.83" height="88.9"/><rect x="376.81" y="180.1" width="7.83" height="18"/><rect x="384.64" y="161.2" width="7.83" height="36.9"/><rect x="392.47" y="148.6" width="7.83" height="49.5"/><rect x="400.3" y="98.8" width="7.83" height="99.3"/><rect x="408.13" y="104.6" width="7.83" height="93.5"/><rect x="415.96" y="31.4" width="7.83" height="166.7"/><rect x="423.79" y="36.5" width="7.83" height="161.6"/><rect x="431.62" y="63.2" width="7.83" height="134.9"/><rect x="439.45" y="132.1" width="7.83" height="66"/><rect x="447.28" y="118.7" width="7.83" height="79.4"/><rect x="455.11" y="106.2" width="7.83" height="91.9"/><rect x="462.94" y="130.1" width="7.83" height="68"/><rect x="470.77" y="129.1" width="7.83" height="69"/><rect x="478.6" y="170.5" width="7.83" height="27.6"/><rect x="486.43" y="178.1" width="7.83" height="20"/><rect x="494.26" y="175.7" width="7.83" height="22.4"/><rect x="502.09" y="183.1" width="7.83" height="15"/><rect x="509.92" y="192.6" width="7.83" height="5.5"/><rect x="517.75" y="196.6" width="7.83" height="1.5"/><rect x="525.58" y="197.6" width="7.83" height="0.5"/></g>
<rect x="311.3" y="15" width="232.9" height="183.1" fill="none" stroke="#4a4a4a" stroke-width="0.85"/>
<path d="M319.4 198.1v-2.3M319.4 15v2.3M345.51 198.1v-2.3M345.51 15v2.3M371.62 198.1v-2.3M371.62 15v2.3M397.73 198.1v-2.3M397.73 15v2.3M423.84 198.1v-2.3M423.84 15v2.3M449.95 198.1v-2.3M449.95 15v2.3M476.06 198.1v-2.3M476.06 15v2.3M502.17 198.1v-2.3M502.17 15v2.3M528.28 198.1v-2.3M528.28 15v2.3M311.3 198.1h2.3M544.2 198.1h-2.3M311.3 171.94h2.3M544.2 171.94h-2.3M311.3 145.79h2.3M544.2 145.79h-2.3M311.3 119.63h2.3M544.2 119.63h-2.3M311.3 93.47h2.3M544.2 93.47h-2.3M311.3 67.31h2.3M544.2 67.31h-2.3M311.3 41.16h2.3M544.2 41.16h-2.3M311.3 15h2.3M544.2 15h-2.3" fill="none" stroke="#262626" stroke-width="0.6"/>
<g font-family="'Liberation Sans', Arial, Helvetica, sans-serif" font-size="6.9" fill="#262626"><text x="319.4" y="208.5" text-anchor="middle">-0.04</text><text x="345.51" y="208.5" text-anchor="middle">-0.03</text><text x="371.62" y="208.5" text-anchor="middle">-0.02</text><text x="397.73" y="208.5" text-anchor="middle">-0.01</text><text x="423.84" y="208.5" text-anchor="middle">0</text><text x="449.95" y="208.5" text-anchor="middle">0.01</text><text x="476.06" y="208.5" text-anchor="middle">0.02</text><text x="502.17" y="208.5" text-anchor="middle">0.03</text><text x="528.28" y="208.5" text-anchor="middle">0.04</text><text x="308.1" y="200.5" text-anchor="end">0</text><text x="308.1" y="174.34" text-anchor="end">50</text><text x="308.1" y="148.19" text-anchor="end">100</text><text x="308.1" y="122.03" text-anchor="end">150</text><text x="308.1" y="95.87" text-anchor="end">200</text><text x="308.1" y="69.71" text-anchor="end">250</text><text x="308.1" y="43.56" text-anchor="end">300</text><text x="308.1" y="17.4" text-anchor="end">350</text></g>
<text x="427.8" y="219.3" font-family="'Liberation Sans', Arial, Helvetica, sans-serif" font-size="7.7" fill="#262626" text-anchor="middle">error (rad)</text>
<text x="427.6" y="10.6" font-family="'Liberation Sans', Arial, Helvetica, sans-serif" font-size="7.7" font-weight="bold" fill="#000" text-anchor="middle">error histogram</text>
<text transform="translate(291.8 106.5) rotate(-90)" font-family="'Liberation Sans', Arial, Helvetica, sans-serif" font-size="7.3" fill="#262626" text-anchor="middle">samples</text>
<g font-family="'Liberation Serif', 'Times New Roman', serif" font-size="16.2" font-weight="bold" fill="#000" text-anchor="middle"><text transform="translate(130.7 241.2) scale(0.93 1)">(a)</text><text transform="translate(419.3 241.2) scale(0.93 1)">(b)</text></g>
</svg>
</body></html>
